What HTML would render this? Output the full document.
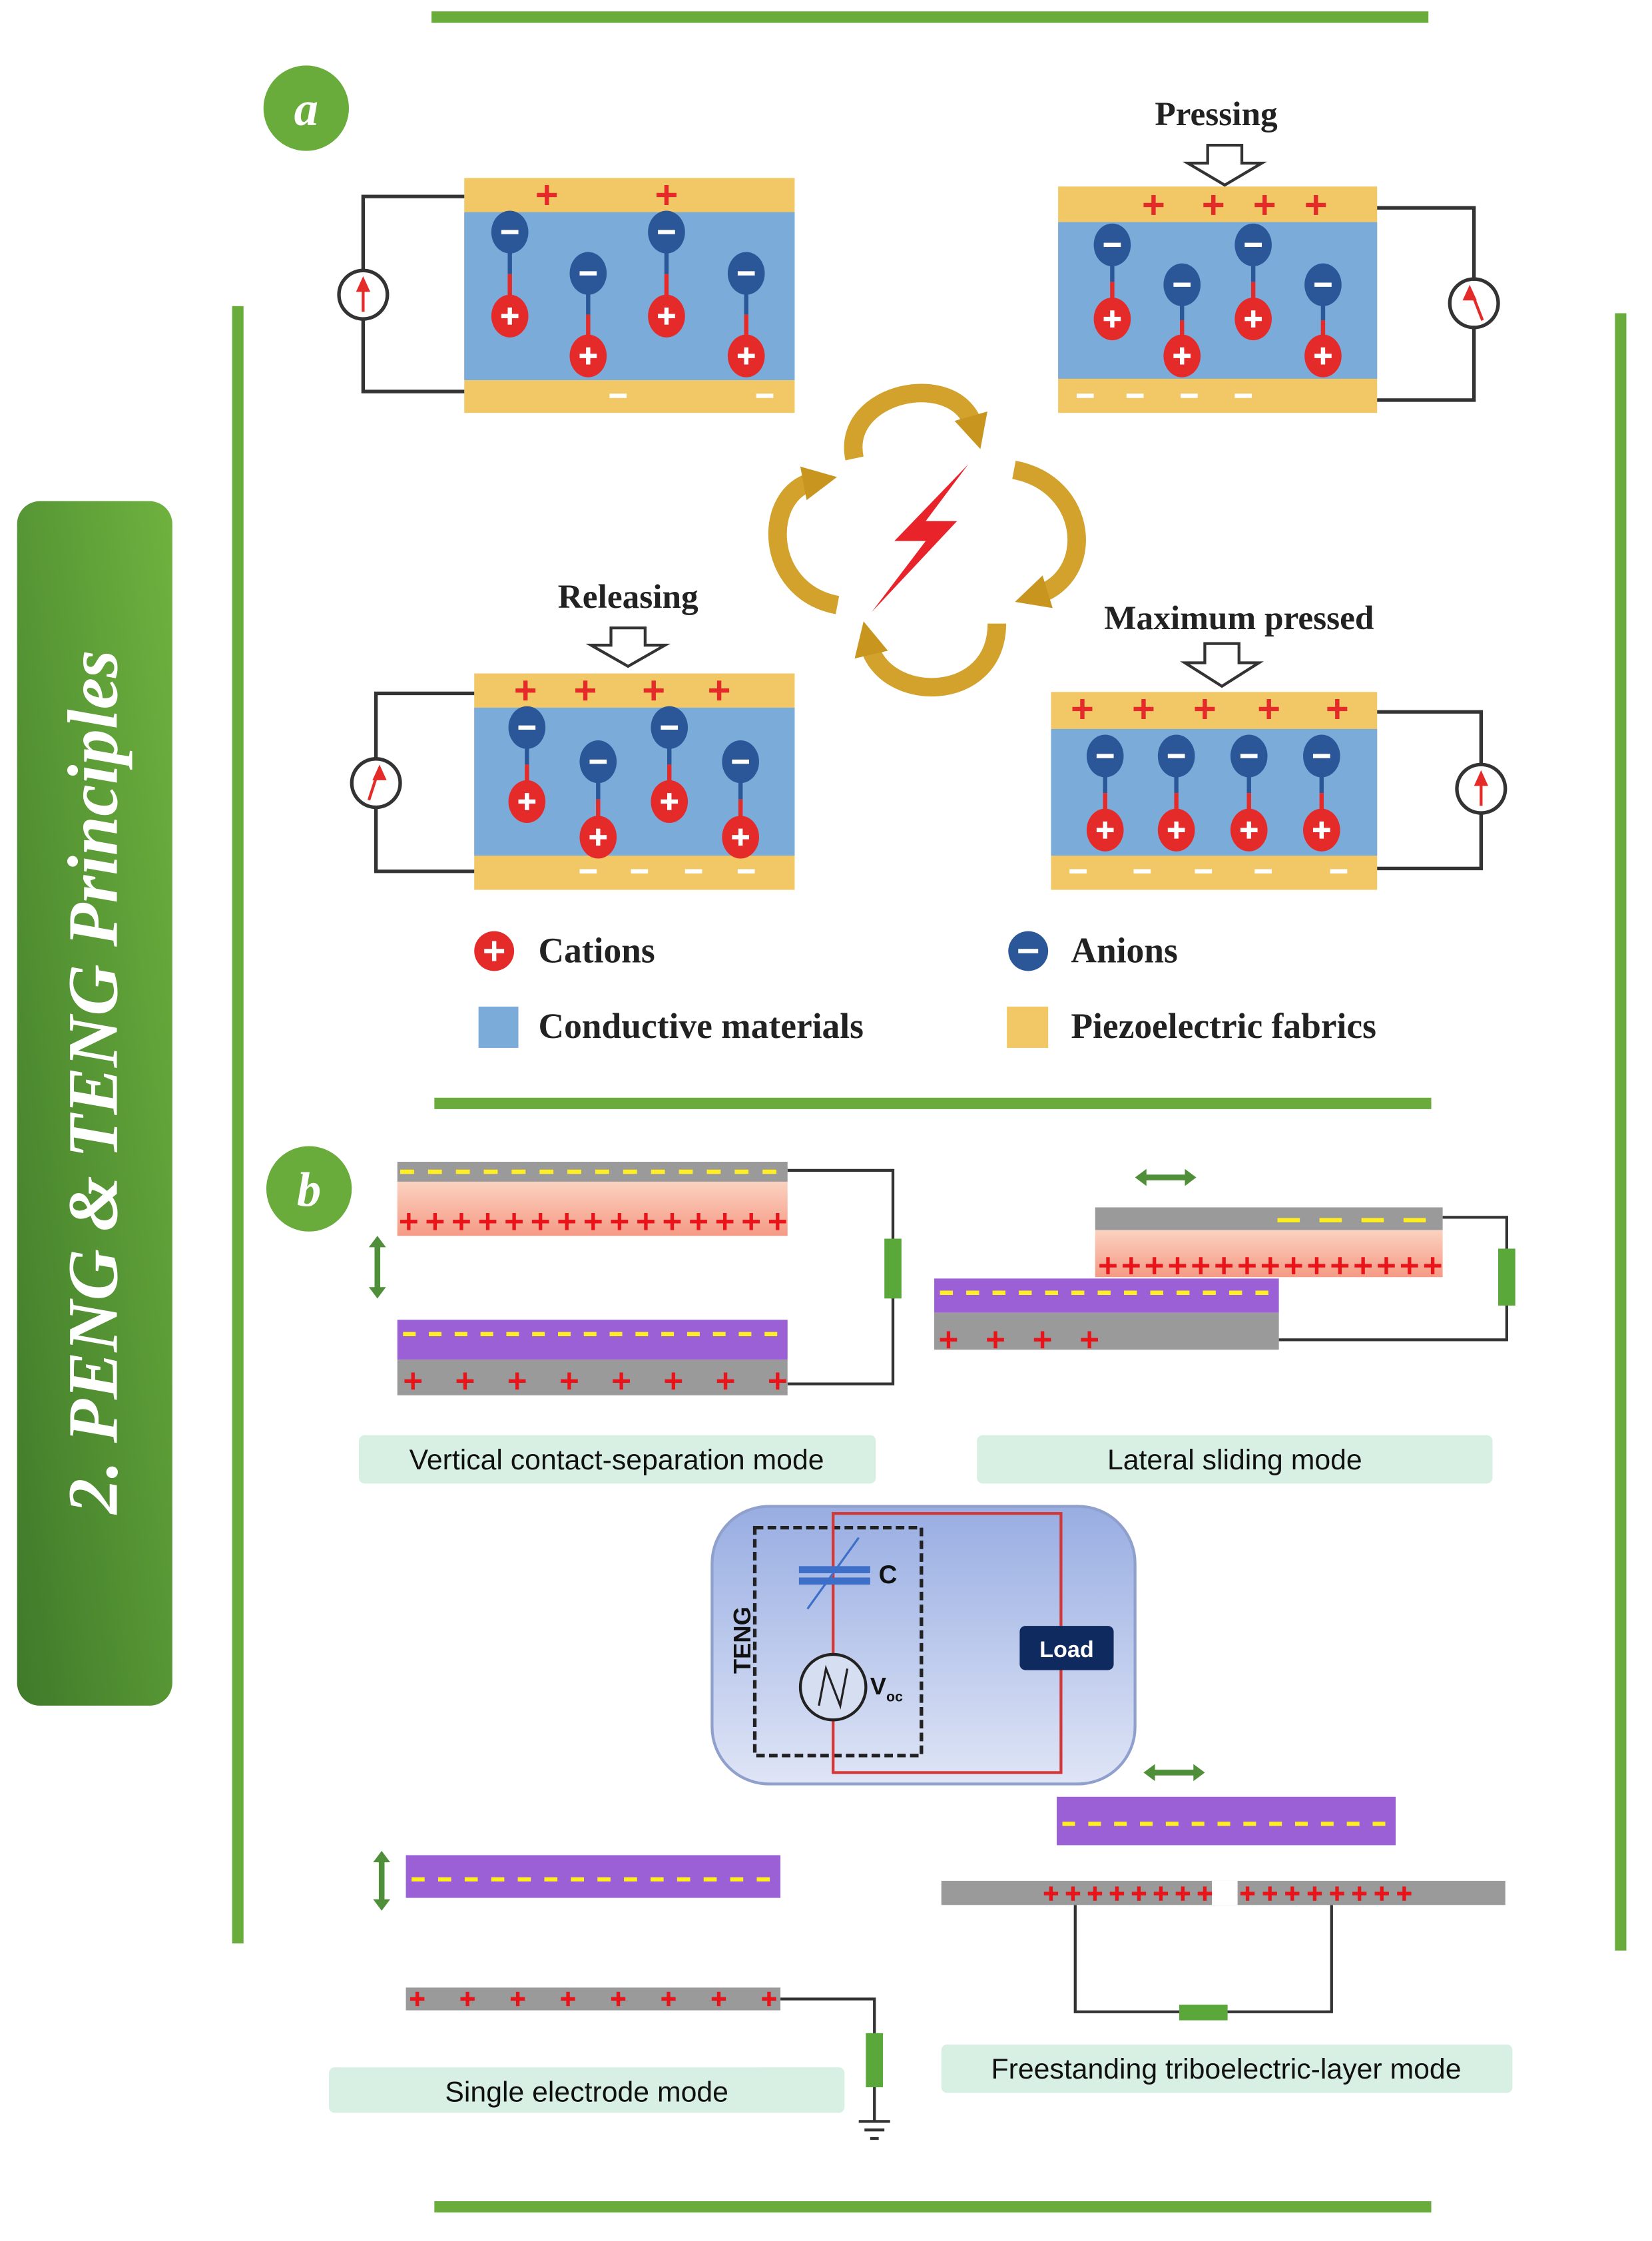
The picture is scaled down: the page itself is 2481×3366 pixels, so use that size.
<!DOCTYPE html>
<html><head><meta charset="utf-8"><style>
html,body{margin:0;padding:0;background:#fff}
svg{display:block}
.ser{font-family:"Liberation Serif",serif;font-weight:bold}
.san{font-family:"Liberation Sans",sans-serif}
</style></head><body>
<svg id="s" width="2481" height="3366" viewBox="0 0 1160 1574" preserveAspectRatio="none" xmlns="http://www.w3.org/2000/svg">
<defs>
<linearGradient id="gside" x1="0" y1="1" x2="1" y2="0"><stop offset="0" stop-color="#3f7a2a"/><stop offset="1" stop-color="#6fb23f"/></linearGradient>
<linearGradient id="gteng" x1="0" y1="0" x2="0" y2="1"><stop offset="0" stop-color="#98ade2"/><stop offset="1" stop-color="#dfe5f6"/></linearGradient>
<linearGradient id="gsal" x1="0" y1="0" x2="0" y2="1"><stop offset="0" stop-color="#fbd2c0"/><stop offset="1" stop-color="#f59a85"/></linearGradient>
<marker id="ah" markerUnits="userSpaceOnUse" markerWidth="30" markerHeight="30" refX="8" refY="15" orient="auto"><path d="M0,3 L24,15 L0,27 Z" fill="#c8961e"/></marker>
</defs>
<rect width="1160" height="1574" fill="#fff"/>
<g fill="#6aac3c">
<rect x="303" y="8" width="700" height="8"/>
<rect x="305" y="771" width="700" height="8"/>
<rect x="305" y="1546" width="700" height="8"/>
<rect x="163" y="215" width="8" height="1150"/>
<rect x="1134" y="220" width="8" height="1150"/>
</g>
<rect x="12" y="352" width="109" height="846" rx="16" fill="url(#gside)"/>
<text class="ser" x="0" y="0" transform="translate(82,760) rotate(-90)" text-anchor="middle" font-size="50" font-style="italic" fill="#fff">2. PENG &amp; TENG Principles</text>
<circle cx="215" cy="76" r="30" fill="#6aac3c"/><text class="ser" x="215" y="88" text-anchor="middle" font-size="34" font-style="italic" fill="#fff">a</text>
<circle cx="217" cy="835" r="30" fill="#6aac3c"/><text class="ser" x="217" y="847" text-anchor="middle" font-size="34" font-style="italic" fill="#fff">b</text>
<g id="dev"></g>
<text class="ser" x="854" y="88" text-anchor="middle" font-size="24" fill="#222">Pressing</text>
<text class="ser" x="441" y="427" text-anchor="middle" font-size="24" fill="#222">Releasing</text>
<text class="ser" x="870" y="442" text-anchor="middle" font-size="24" fill="#222">Maximum pressed</text>
<g fill="none" stroke="#d2a22c" stroke-width="13" marker-end="url(#ah)">
<path d="M600,322 C590,275 672,258 684,300"/>
<path d="M712,330 C765,340 770,405 728,418"/>
<path d="M700,438 C700,495 620,495 610,452"/>
<path d="M588,425 C535,415 535,345 572,338"/>
</g>
<path d="M680,326 L628,380 L650,380 L612,430 L672,366 L650,366 Z" fill="#e8232a"/>
<circle cx="347" cy="668" r="14" fill="#e52a2a"/><path d="M340,668h14M347,661v14" stroke="#fff" stroke-width="3"/>
<text class="ser" x="378" y="676" font-size="25" fill="#222">Cations</text>
<circle cx="722" cy="668" r="14" fill="#2b5799"/><path d="M715,668h14" stroke="#fff" stroke-width="3"/>
<text class="ser" x="752" y="676" font-size="25" fill="#222">Anions</text>
<rect x="336" y="707" width="28" height="29" fill="#7aabd9"/>
<text class="ser" x="378" y="729" font-size="25" fill="#222">Conductive materials</text>
<rect x="707" y="707" width="29" height="29" fill="#f1c865"/>
<text class="ser" x="752" y="729" font-size="25" fill="#222">Piezoelectric fabrics</text>

<g id="pb"></g>
<g fill="#d8f0e4">
<rect x="252" y="1008" width="363" height="34" rx="4"/>
<rect x="686" y="1008" width="362" height="34" rx="4"/>
<rect x="231" y="1452" width="362" height="32" rx="4"/>
<rect x="661" y="1436" width="401" height="34" rx="4"/>
</g>
<g class="san" font-size="20" fill="#111" text-anchor="middle">
<text x="433" y="1032">Vertical contact-separation mode</text>
<text x="867" y="1032">Lateral sliding mode</text>
<text x="412" y="1476">Single electrode mode</text>
<text x="861" y="1460">Freestanding triboelectric-layer mode</text>
</g>
<rect x="500" y="1058" width="297" height="195" rx="40" fill="url(#gteng)" stroke="#8fa0cc" stroke-width="2"/>
<rect x="530" y="1073" width="117" height="160" fill="none" stroke="#222" stroke-width="2.5" stroke-dasharray="6,3"/>
<rect x="585" y="1063" width="160" height="182" fill="none" stroke="#d23838" stroke-width="2"/>
<rect x="561" y="1100" width="50" height="5" fill="#3d6fc9"/><rect x="561" y="1108" width="50" height="5" fill="#3d6fc9"/>
<line x1="567" y1="1130" x2="603" y2="1080" stroke="#3d6fc9" stroke-width="1.5"/>
<text class="san" x="617" y="1112" font-size="18" font-weight="bold" fill="#111">C</text>
<circle cx="585" cy="1185" r="23" fill="#d6def2" stroke="#222" stroke-width="2"/>
<path d="M575,1198 L580,1172 L590,1198 L595,1172" fill="none" stroke="#222" stroke-width="1.5"/>
<text class="san" x="611" y="1190" font-size="17" font-weight="bold" fill="#111">V<tspan font-size="10" dy="5">oc</tspan></text>
<text class="san" transform="translate(527,1152) rotate(-90)" text-anchor="middle" font-size="17" font-weight="bold" fill="#111">TENG</text>
<rect x="716" y="1142" width="66" height="31" rx="4" fill="#0e2a5e"/>
<text class="san" x="749" y="1164" text-anchor="middle" font-size="16" font-weight="bold" fill="#fff">Load</text>
</svg>
<script>
var NS="http://www.w3.org/2000/svg";
function el(p,t,a){var e=document.createElementNS(NS,t);for(var k in a)e.setAttribute(k,a[k]);p.appendChild(e);return e;}
var D=document.getElementById('dev');
function plus(p,x,y,s,c,w){el(p,'path',{d:'M'+(x-s)+','+y+'h'+(2*s)+'M'+x+','+(y-s)+'v'+(2*s),stroke:c,'stroke-width':w||3});}
function minus(p,x,y,s,c,w){el(p,'path',{d:'M'+(x-s)+','+y+'h'+(2*s),stroke:c,'stroke-width':w||3});}
function device(o){
 el(D,'rect',{x:o.x1,y:o.t,width:o.x2-o.x1,height:o.b-o.t,fill:'#f1c865'});
 el(D,'rect',{x:o.x1,y:o.bt,width:o.x2-o.x1,height:o.bb-o.bt,fill:'#7aabd9'});
 o.ions.forEach(function(i){
  var m=(i[1]+i[2])/2;
  el(D,'line',{x1:i[0],y1:i[1],x2:i[0],y2:m,stroke:'#2b5799','stroke-width':3});
  el(D,'line',{x1:i[0],y1:m,x2:i[0],y2:i[2],stroke:'#e52a2a','stroke-width':3});
  el(D,'ellipse',{cx:i[0],cy:i[1],rx:13,ry:15,fill:'#2b5799'});minus(D,i[0],i[1],6,'#fff',3);
  el(D,'ellipse',{cx:i[0],cy:i[2],rx:13,ry:15,fill:'#e52a2a'});plus(D,i[0],i[2],6,'#fff',3);
 });
 o.pl.forEach(function(x){plus(D,x,o.py,7,'#e52a2a',3);});
 o.mi.forEach(function(x){minus(D,x,o.my,6,'#fff',3);});
 var cx=o.cx;var xe=o.side<0?o.x1:o.x2;
 el(D,'path',{d:'M'+xe+','+o.w1+'H'+cx+'V'+o.w2+'H'+xe,fill:'none',stroke:'#333','stroke-width':2.5});
 el(D,'circle',{cx:cx,cy:o.mc,r:17,fill:'#fff',stroke:'#333','stroke-width':2.5});
 el(D,'line',{x1:cx+(o.ax||0),y1:o.mc+12,x2:cx-(o.ax||0)*0.3,y2:o.mc-8,stroke:'#e52a2a','stroke-width':2});
 el(D,'path',{d:'M'+(cx-5-(o.ax||0)*0.5)+','+(o.mc-2)+'L'+(cx-(o.ax||0)*0.5)+','+(o.mc-13)+'L'+(cx+5-(o.ax||0)*0.5)+','+(o.mc-2)+'Z',fill:'#e52a2a'});
}
function arrow(x,y1,y2){el(D,'path',{d:'M'+(x-12)+','+y1+'h24v'+((y2-y1)*0.45)+'h14L'+x+','+y2+'L'+(x-26)+','+(y1+(y2-y1)*0.45)+'h14Z',fill:'#fff',stroke:'#333','stroke-width':2});}
device({x1:326,x2:558,t:125,bt:149,bb:267,b:290,ions:[[358,163,222],[413,192,250],[468,163,222],[524,192,250]],pl:[384,468],py:137,mi:[434,537],my:278,cx:255,side:-1,w1:138,w2:275,mc:207});
device({x1:743,x2:967,t:131,bt:156,bb:266,b:290,ions:[[781,172,224],[830,200,250],[880,172,224],[929,200,250]],pl:[810,852,888,924],py:144,mi:[762,797,835,873],my:278,cx:1035,side:1,w1:146,w2:281,mc:213,ax:6});
device({x1:333,x2:558,t:473,bt:497,bb:601,b:625,ions:[[370,511,563],[420,535,588],[470,511,563],[520,535,588]],pl:[369,411,459,505],py:485,mi:[413,449,487,524],my:612,cx:264,side:-1,w1:487,w2:612,mc:550,ax:-5});
device({x1:738,x2:967,t:486,bt:512,bb:601,b:625,ions:[[776,531,583],[826,531,583],[877,531,583],[928,531,583]],pl:[760,803,846,891,939],py:498,mi:[757,802,845,887,940],my:612,cx:1040,side:1,w1:500,w2:610,mc:554});
arrow(860,102,130);arrow(441,441,468);arrow(858,452,482);
var P=document.getElementById('pb');
function r(x,y,w,h,f){el(P,'rect',{x:x,y:y,width:w,height:h,fill:f});}
function dashes(x1,x2,y,n){var st=(x2-x1)/n;for(var i=0;i<n;i++)el(P,'line',{x1:x1+i*st+2,y1:y,x2:x1+i*st+st*0.6,y2:y,stroke:'#ffee22','stroke-width':3});}
function pls(xs,y,s){xs.forEach(function(x){plus(P,x,y,s||5,'#e8141a',2.5);});}
function rng(a,b,n){var o=[];for(var i=0;i<n;i++)o.push(a+(b-a)*i/(n-1));return o;}
function darrV(x,y1,y2){el(P,'line',{x1:x,y1:y1+6,x2:x,y2:y2-6,stroke:'#4f8f3a','stroke-width':4});el(P,'path',{d:'M'+(x-6)+','+(y1+8)+'L'+x+','+y1+'L'+(x+6)+','+(y1+8)+'ZM'+(x-6)+','+(y2-8)+'L'+x+','+y2+'L'+(x+6)+','+(y2-8)+'Z',fill:'#4f8f3a'});}
function darrH(x1,x2,y){el(P,'line',{x1:x1+6,y1:y,x2:x2-6,y2:y,stroke:'#4f8f3a','stroke-width':4});el(P,'path',{d:'M'+(x1+8)+','+(y-6)+'L'+x1+','+y+'L'+(x1+8)+','+(y+6)+'ZM'+(x2-8)+','+(y-6)+'L'+x2+','+y+'L'+(x2-8)+','+(y+6)+'Z',fill:'#4f8f3a'});}
function wire(d){el(P,'path',{d:d,fill:'none',stroke:'#333','stroke-width':2});}
wire('M553,822H627V972H553');r(621,870,12,42,'#5aa83a');
r(279,816,274,14,'#9a9a9a');dashes(279,553,823,14);
r(279,830,274,38,'url(#gsal)');pls(rng(287,546,15),858,6);
r(279,927,274,28,'#9b5fd6');dashes(281,553,937,15);
r(279,955,274,25,'#9a9a9a');pls(rng(290,546,8),970,6);
darrV(265,868,912);
wire('M1013,855H1058V941H898');r(1052,877,12,40,'#5aa83a');
darrH(797,840,827);
r(769,848,244,16,'#9a9a9a');dashes(895,1013,857,4);
r(769,864,244,33,'url(#gsal)');pls(rng(778,1006,15),889,6);
r(656,898,242,24,'#9b5fd6');dashes(658,898,908,13);
r(656,922,242,26,'#9a9a9a');pls([666,699,732,765],941,6);
darrV(268,1300,1342);
r(285,1303,263,30,'#9b5fd6');dashes(287,548,1320,14);
wire('M548,1404H614V1490');r(608,1428,12,38,'#5aa83a');
r(285,1396,263,16,'#9a9a9a');pls(rng(293,540,8),1404,5);
wire('M603,1490h22M607,1496h14M611,1502h6');
darrH(803,846,1245);
r(742,1262,238,34,'#9b5fd6');dashes(744,980,1281,13);
wire('M755,1338V1413H935V1338');r(828,1408,34,11,'#5aa83a');
r(661,1321,396,17,'#9a9a9a');r(851,1321,18,17,'#fff');
pls(rng(738,846,8),1330,5);pls(rng(876,986,8),1330,5);
</script>
</body></html>
